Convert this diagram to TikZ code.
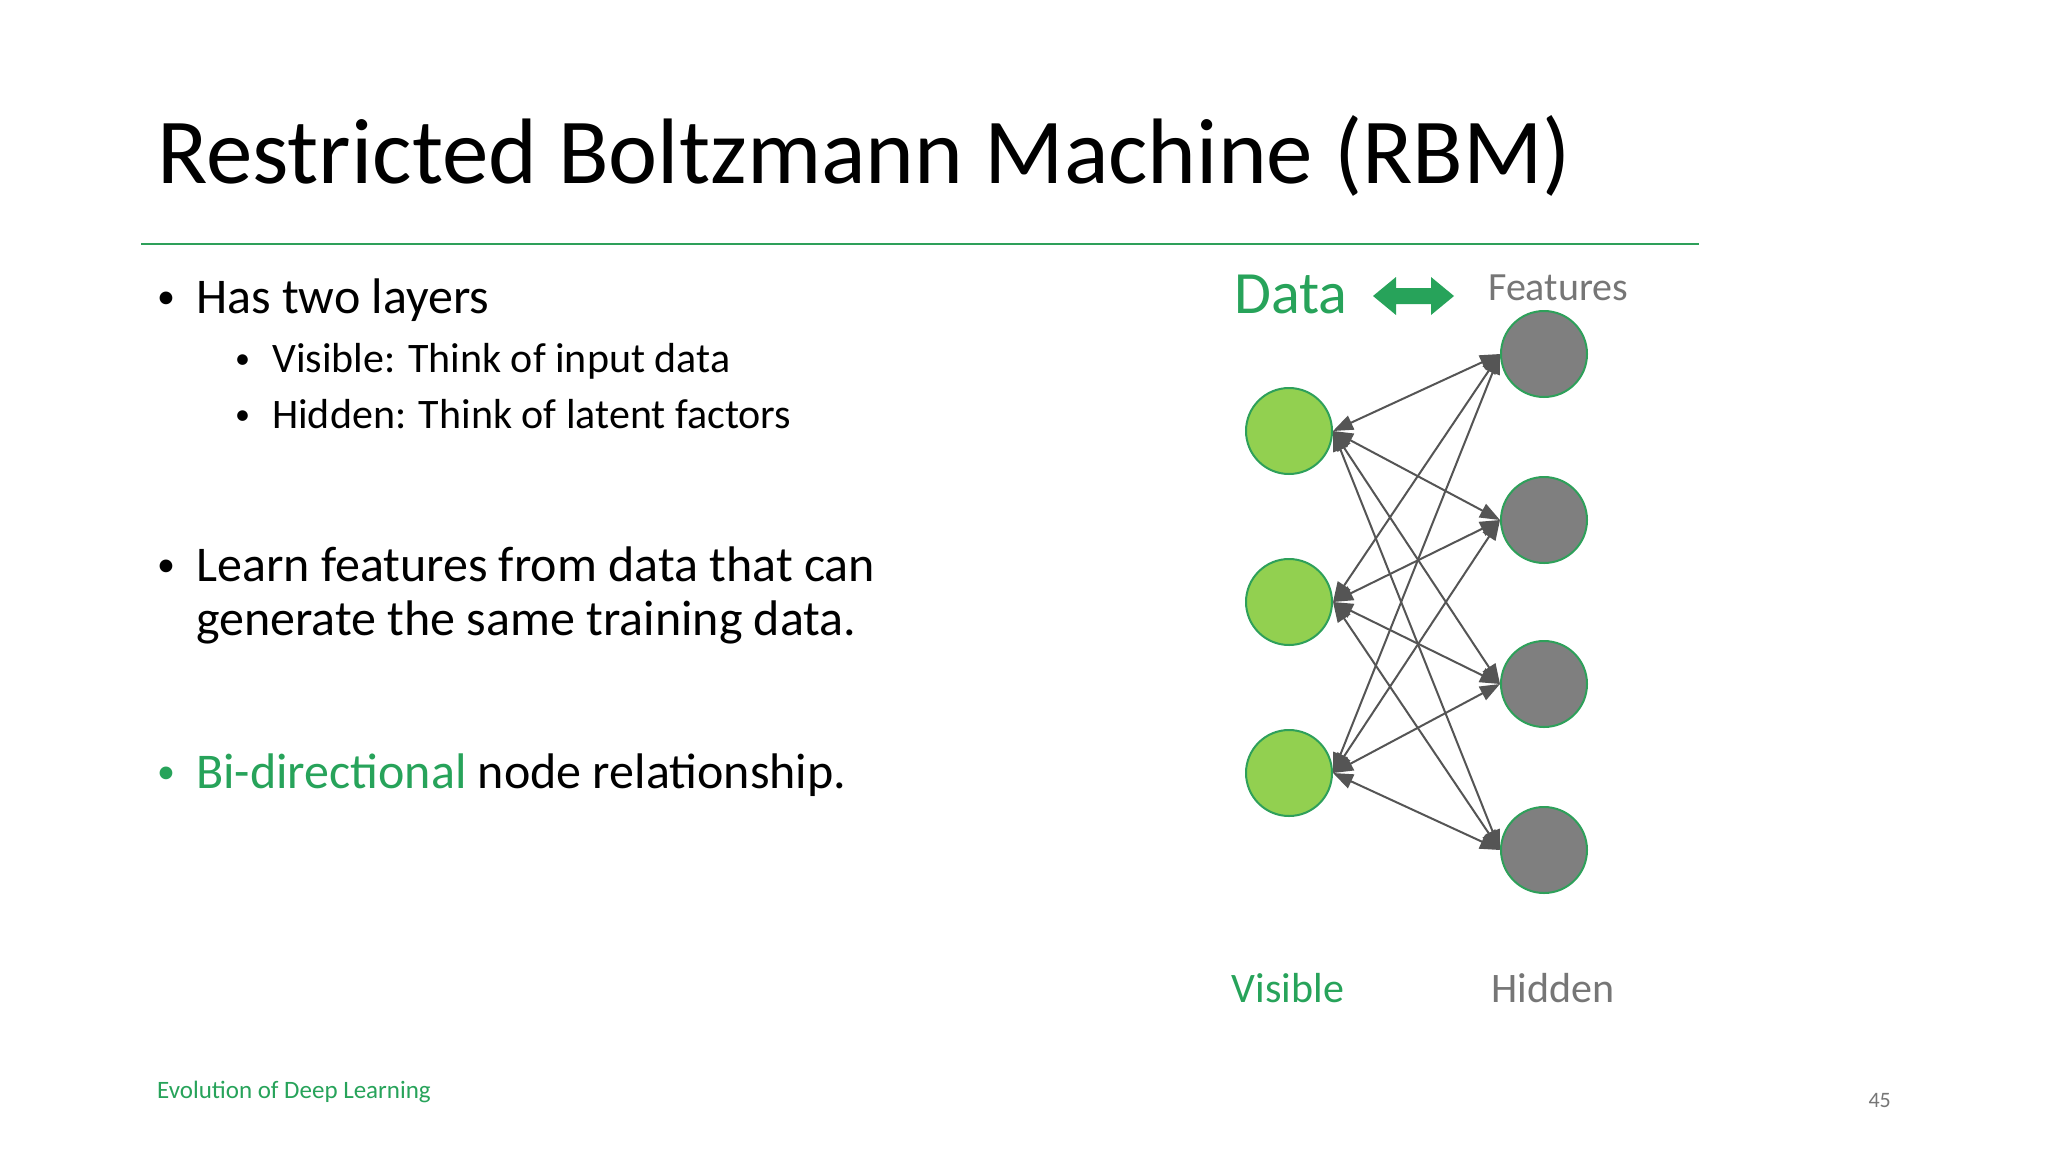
\documentclass[tikz,border=0pt]{standalone}
\usepackage{fontspec}
\setmainfont{Carlito}
\begin{document}
\begin{tikzpicture}[x=1pt,y=-1pt,
  txt/.style={inner sep=0pt,anchor=base west},
  vis/.style={circle,minimum size=86pt,inner sep=0pt,fill=vgreen,draw=lgreen,line width=2pt},
  hid/.style={circle,minimum size=86pt,inner sep=0pt,fill=hgray,draw=lgreen,line width=2pt},
  edge/.style={draw=egray,line width=2pt,{Triangle[length=20pt,width=15pt]}-{Triangle[length=20pt,width=15pt]}}]
\usetikzlibrary{arrows.meta}
\definecolor{lgreen}{HTML}{2EA05A}
\definecolor{tgreen}{HTML}{27A35A}
\definecolor{vgreen}{HTML}{92D050}
\definecolor{hgray}{HTML}{7F7F7F}
\definecolor{egray}{HTML}{555555}
\definecolor{ftgray}{HTML}{767676}
\useasboundingbox[fill=white] (0,0) rectangle (2048,1152);
\node[txt,font=\fontsize{93}{110}\selectfont] (title) at (157,183) {Restricted Boltzmann Machine (RBM)};
\draw[lgreen,line width=2pt] (141,244) coordinate (l1) -- (1699,244) coordinate (l2);
\begin{scope}[font=\fontsize{50}{58}\selectfont]
\node[txt,font=\fontsize{36}{40}\selectfont] (b1) at (157,308) {•};
\node[txt] (t1) at (196,313) {Has two layers};
\node[txt,font=\fontsize{36}{40}\selectfont] (b2) at (157,576) {•};
\node[txt] (t2) at (196,581) {Learn features from data that can};
\node[txt] (t2b) at (196,635) {generate the same training data.};
\node[txt,text=tgreen,font=\fontsize{36}{40}\selectfont] (b3) at (157,783) {•};
\node[txt] (t3) at (196,788) {\textcolor{tgreen}{Bi-directional} node relationship.};
\end{scope}
\begin{scope}[font=\fontsize{42}{50}\selectfont]
\node[txt,font=\fontsize{30}{36}\selectfont] (s1) at (235,368) {•};
\node[txt] (st1) at (272,372) {Visible: Think of input data};
\node[txt,font=\fontsize{30}{36}\selectfont] (s2) at (235,424) {•};
\node[txt] (st2) at (272,428) {Hidden: Think of latent factors};
\node[inner sep=0pt,anchor=base,text=tgreen] (vl) at (1288,1002) {Visible};
\node[inner sep=0pt,anchor=base,text=ftgray] (hl) at (1553,1002) {Hidden};
\end{scope}
\node[txt,font=\fontsize{60}{70}\selectfont,text=tgreen] (data) at (1234,313) {Data};
\node[txt,font=\fontsize{40}{48}\selectfont,text=ftgray] (feat) at (1488,300) {Features};
\fill[tgreen] (1373,296) -- (1396,277) -- (1396,288) -- (1431,288) -- (1431,277) -- (1454,296) -- (1431,315) -- (1431,304) -- (1396,304) -- (1396,315) -- cycle;
\node[txt,font=\fontsize{25}{30}\selectfont,text=tgreen] (foot) at (157,1098) {Evolution of Deep Learning};
\node[inner sep=0pt,anchor=base east,font=\fontsize{22}{28}\selectfont,text=ftgray] (pg) at (1891,1107) {45};
\foreach \i/\y in {1/431,2/602,3/773} \node[vis] (v\i) at (1289,\y) {};
\foreach \j/\y in {1/354,2/520,3/684,4/850} \node[hid] (h\j) at (1544,\y) {};
\foreach \i in {1,2,3} \foreach \j in {1,2,3,4} \draw[edge] (v\i.east) -- (h\j.west);
\end{tikzpicture}
\end{document}
